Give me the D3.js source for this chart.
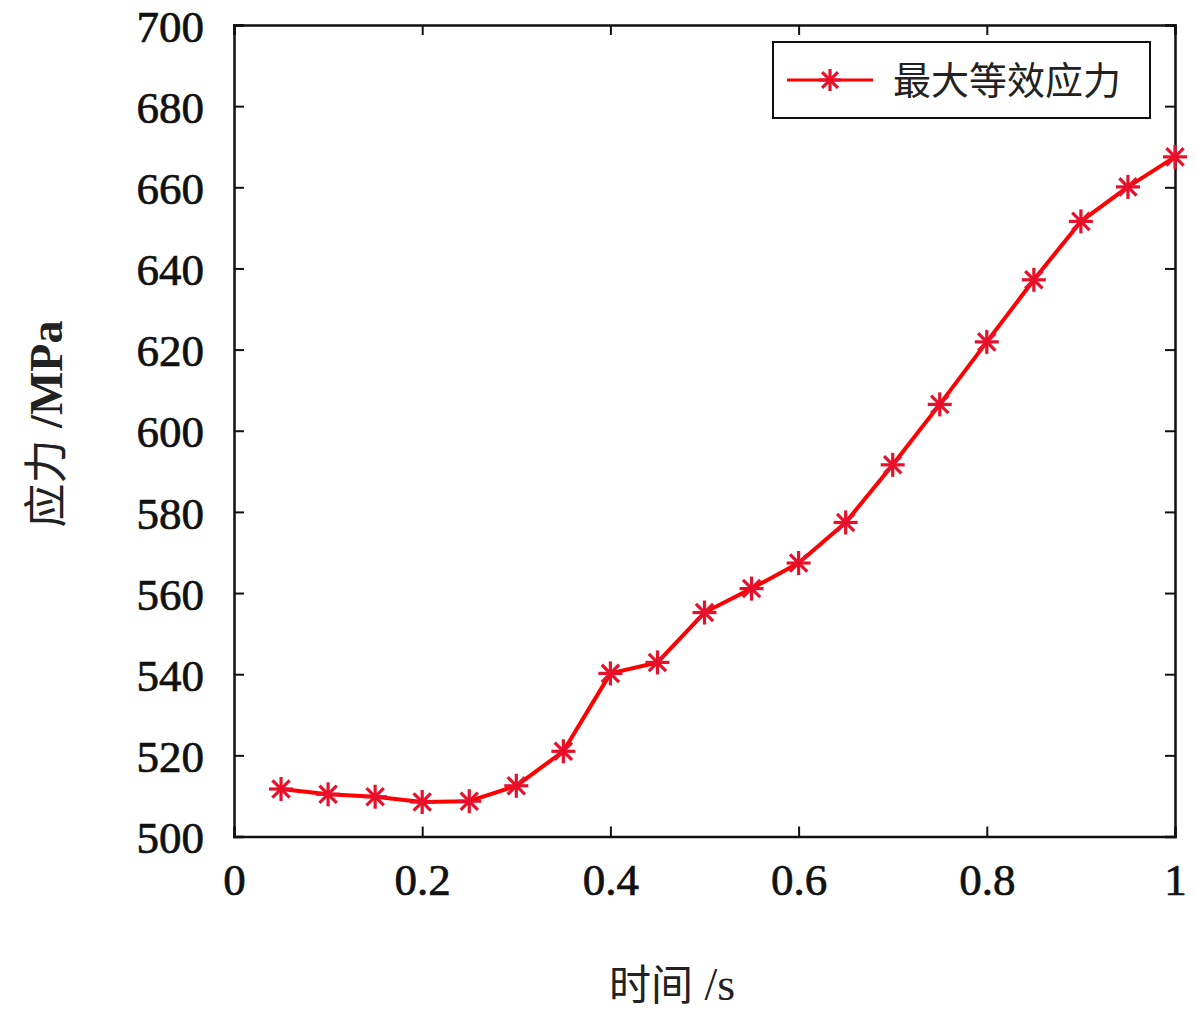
<!DOCTYPE html>
<html>
<head>
<meta charset="utf-8">
<script src="https://cdn.jsdelivr.net/npm/d3@7"></script>
<style>
  html, body { margin: 0; padding: 0; background: #fff; }
  svg { display: block; }
</style>
</head>
<body>
<svg id="chart" width="1197" height="1024"></svg>
<script>
// ---- data ----
const timeValues = [0.05, 0.1, 0.15, 0.2, 0.25, 0.3, 0.35, 0.4, 0.45, 0.5,
                    0.55, 0.6, 0.65, 0.7, 0.75, 0.8, 0.85, 0.9, 0.95, 1.0];
const stressValues = [511.7, 510.4, 509.8, 508.5, 508.7, 512.5, 521.0, 540.2, 542.9, 555.2,
                      561.1, 567.4, 577.4, 591.6, 606.5, 621.9, 637.2, 651.6, 660.1, 667.5];
const xTicks = [0, 0.2, 0.4, 0.6, 0.8, 1];
const yTicks = [500, 520, 540, 560, 580, 600, 620, 640, 660, 680, 700];
const seriesName = "最大等效应力";
const xLabelCn = "时间";
const xLabelEn = " /s";
const yLabelCn = "应力";
const yLabelEn = " /MPa";

// ---- layout ----
const svg = d3.select("#chart");
const pL = 234, pR = 1175, pT = 25, pB = 836.5;
const x = d3.scaleLinear().domain([0, 1]).range([pL, pR]);
const y = d3.scaleLinear().domain([500, 700]).range([pB, pT]);
const serif = "'Liberation Serif', 'DejaVu Serif', serif";
const cjk = "'Noto Sans CJK SC', sans-serif";

// axes with inward ticks on all four sides
const tickLen = 10;
const axB = svg.append("g").attr("transform", `translate(0,${pB})`)
  .call(d3.axisBottom(x).tickValues(xTicks).tickSize(-tickLen).tickPadding(22)
        .tickFormat(d => d3.format("")(d)));
const axT = svg.append("g").attr("transform", `translate(0,${pT})`)
  .call(d3.axisTop(x).tickValues(xTicks).tickSize(-tickLen).tickFormat(""));
const axL = svg.append("g").attr("transform", `translate(${pL},0)`)
  .call(d3.axisLeft(y).tickValues(yTicks).tickSize(-tickLen).tickPadding(30));
const axR = svg.append("g").attr("transform", `translate(${pR},0)`)
  .call(d3.axisRight(y).tickValues(yTicks).tickSize(-tickLen).tickFormat(""));

[axB, axT, axL, axR].forEach(g => {
  g.select(".domain").attr("stroke", "#111").attr("stroke-width", 2.5);
  g.selectAll(".tick line").attr("stroke", "#111").attr("stroke-width", 2);
  g.selectAll(".tick text").attr("font-family", serif).attr("font-size", 45)
    .attr("fill", "#111").attr("stroke", "#111").attr("stroke-width", 0.7);
});
axL.selectAll(".tick text").attr("dy", "0.36em");
axB.selectAll(".tick text").attr("dy", "0.8em");

// line
const line = d3.line().x((d, i) => x(timeValues[i])).y(d => y(d));
svg.append("path").datum(stressValues)
  .attr("d", line).attr("fill", "none")
  .attr("stroke", "#ff0000").attr("stroke-width", 4).attr("stroke-linejoin", "round");

// asterisk markers
function asterisk(g, r) {
  const arms = [[-r, 0, r, 0], [0, -r, 0, r],
                [-r * 0.72, -r * 0.72, r * 0.72, r * 0.72],
                [-r * 0.72, r * 0.72, r * 0.72, -r * 0.72]];
  arms.forEach(a => g.append("line")
    .attr("x1", a[0]).attr("y1", a[1]).attr("x2", a[2]).attr("y2", a[3])
    .attr("stroke", "#e8102a").attr("stroke-width", 3.2));
}
svg.append("g").selectAll("g.mk").data(stressValues).join("g")
  .attr("class", "mk")
  .attr("transform", (d, i) => `translate(${x(timeValues[i])},${y(d)})`)
  .each(function () { asterisk(d3.select(this), 12); });

// legend
const lg = svg.append("g");
lg.append("rect").attr("x", 773).attr("y", 42).attr("width", 377).attr("height", 76)
  .attr("fill", "#fff").attr("stroke", "#111").attr("stroke-width", 2);
lg.append("line").attr("x1", 787).attr("x2", 873).attr("y1", 80).attr("y2", 80)
  .attr("stroke", "#ff0000").attr("stroke-width", 3);
asterisk(lg.append("g").attr("transform", "translate(830,80)"), 11);
lg.append("text").attr("x", 893).attr("y", 80).attr("dy", "0.36em")
  .attr("font-family", cjk).attr("font-size", 38).attr("fill", "#222")
  .text(seriesName);

// axis labels
svg.append("text").attr("x", 672).attr("y", 1000)
  .attr("text-anchor", "middle").attr("font-size", 42).attr("fill", "#222")
  .call(t => {
    t.append("tspan").attr("font-family", cjk).text(xLabelCn);
    t.append("tspan").attr("font-family", serif).attr("font-size", 46).text(xLabelEn);
  });

svg.append("text")
  .attr("transform", "translate(62,424) rotate(-90)")
  .attr("text-anchor", "middle").attr("font-size", 44).attr("fill", "#222")
  .call(t => {
    t.append("tspan").attr("font-family", cjk).text(yLabelCn);
    t.append("tspan").attr("font-family", serif).attr("font-weight", "bold")
      .attr("font-size", 46).text(yLabelEn);
  });
</script>
</body>
</html>
